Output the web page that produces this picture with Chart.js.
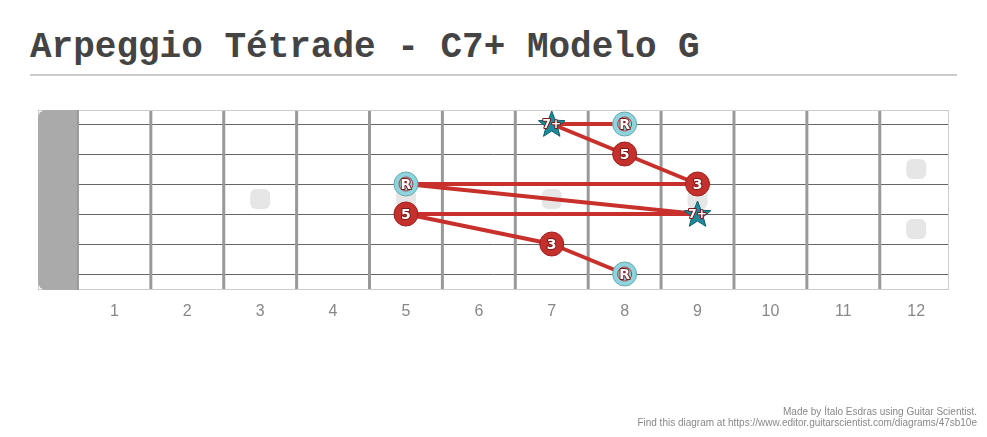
<!DOCTYPE html>
<html><head><meta charset="utf-8">
<script src="https://cdn.jsdelivr.net/npm/chart.js@4"></script>
<style>
body{margin:0;background:#fff;width:987px;height:437px;overflow:hidden;position:relative}
h1{position:absolute;left:30px;top:27px;margin:0;font:bold 36px "Liberation Mono","DejaVu Sans Mono",monospace;color:#444}
#rule{position:absolute;left:30px;top:74px;width:927px;height:2px;background:#ccc}
#foot{position:absolute;right:10px;top:406px;font:10px "Liberation Sans",Arial;color:#888;text-align:right;line-height:11px}
#c{position:absolute;left:0;top:0}
</style></head><body>
<h1>Arpeggio Tétrade - C7+ Modelo G</h1>
<div id="rule"></div>
<canvas id="c" width="987" height="437"></canvas>
<div id="foot">Made by Ítalo Esdras using Guitar Scientist.<br>Find this diagram at https://www.editor.guitarscientist.com/diagrams/47sb10e</div>
<script>
const fretLabels = ['1','2','3','4','5','6','7','8','9','10','11','12'];
// notes in the order the line connects them
const noteFrets = [8, 7, 8, 9, 5, 9, 5, 7, 8];
const noteStrings = [1, 1, 2, 3, 3, 4, 4, 5, 6];
const noteNames = ['R', '7+', '5', '3', 'R', '7+', '5', '3', 'R'];
const inlayFrets = [3, 5, 7, 9, 12, 12];
const inlayStrings = [3.5, 3.5, 3.5, 3.5, 2.5, 4.5];

const board = {
  id: 'board',
  beforeDatasetsDraw(chart) {
    const {ctx, chartArea: a, scales: {x, y}} = chart;
    ctx.save();
    ctx.fillStyle = '#e6e6e6';
    inlayFrets.forEach((f, i) => {
      ctx.beginPath();
      ctx.roundRect(x.getPixelForValue(f) - 10, y.getPixelForValue(inlayStrings[i]) - 10, 20, 20, 6);
      ctx.fill();
    });
    ctx.strokeStyle = '#666'; ctx.lineWidth = 1;
    for (let s = 1; s <= 6; s++) {
      const py = Math.round(y.getPixelForValue(s)) + 0.5;
      ctx.beginPath(); ctx.moveTo(a.left, py); ctx.lineTo(a.right, py); ctx.stroke();
    }
    ctx.strokeStyle = '#999'; ctx.lineWidth = 3;
    for (let f = 1; f <= 11; f++) {
      const px = x.getPixelForValue(f + 0.5);
      ctx.beginPath(); ctx.moveTo(px, a.top); ctx.lineTo(px, a.bottom); ctx.stroke();
    }
    ctx.strokeStyle = '#ccc'; ctx.lineWidth = 1;
    ctx.strokeRect(a.left + 0.5, a.top + 0.5, a.right - a.left - 1, a.bottom - a.top - 1);
    const nut = x.getPixelForValue(0.5);
    ctx.fillStyle = '#aaa';
    ctx.beginPath();
    ctx.roundRect(a.left, a.top, nut - a.left, a.bottom - a.top, [8, 0, 0, 8]);
    ctx.fill();
    ctx.strokeStyle = '#999'; ctx.lineWidth = 2;
    ctx.beginPath(); ctx.moveTo(nut, a.top); ctx.lineTo(nut, a.bottom); ctx.stroke();
    ctx.restore();
  },
  afterDatasetsDraw(chart) {
    const ctx = chart.ctx;
    const meta = chart.getDatasetMeta(0);
    ctx.save();
    meta.data.forEach((pt, i) => {
      const n = noteNames[i], cx = pt.x, cy = pt.y;
      if (n === '7+') {
        ctx.beginPath();
        for (let k = 0; k < 10; k++) {
          const r = k % 2 ? 6 : 14, ang = -Math.PI / 2 + k * Math.PI / 5;
          ctx.lineTo(cx + r * Math.cos(ang), cy + 1 + r * Math.sin(ang));
        }
        ctx.closePath();
        ctx.fillStyle = '#1b8a9a'; ctx.fill();
        ctx.strokeStyle = '#0d5c68'; ctx.lineWidth = 1; ctx.stroke();
      } else if (n === 'R') {
        ctx.beginPath(); ctx.arc(cx, cy, 12, 0, Math.PI * 2);
        ctx.fillStyle = '#8fd3de'; ctx.fill();
        ctx.strokeStyle = '#6aa'; ctx.lineWidth = 1; ctx.stroke();
        ctx.beginPath(); ctx.arc(cx, cy, 7, 0, Math.PI * 2);
        ctx.strokeStyle = '#b03a35'; ctx.lineWidth = 1; ctx.stroke();
      } else {
        ctx.beginPath(); ctx.arc(cx, cy, 12, 0, Math.PI * 2);
        ctx.fillStyle = '#c4302b'; ctx.fill();
        ctx.strokeStyle = '#a02020'; ctx.lineWidth = 1; ctx.stroke();
      }
      ctx.font = 'bold ' + (n === '7+' ? 12 : 14) + 'px "DejaVu Sans", sans-serif';
      ctx.textAlign = 'center'; ctx.textBaseline = 'middle';
      ctx.lineWidth = 2; ctx.strokeStyle = '#7a1a1a'; ctx.lineJoin = 'round';
      ctx.strokeText(n, cx, cy + 1);
      ctx.fillStyle = '#fff'; ctx.fillText(n, cx, cy + 1);
    });
    ctx.restore();
  }
};

new Chart(document.getElementById('c'), {
  type: 'scatter',
  data: {
    datasets: [{
      data: noteFrets.map((f, i) => ({x: f, y: noteStrings[i]})),
      showLine: true,
      borderColor: '#c8302b',
      borderWidth: 4,
      borderJoinStyle: 'round',
      pointRadius: 0
    }]
  },
  options: {
    responsive: false,
    animation: false,
    devicePixelRatio: 1,
    layout: {padding: {left: 38, right: 38, top: 110, bottom: 107}},
    plugins: {legend: {display: false}, tooltip: {enabled: false}},
    scales: {
      x: {
        type: 'linear', min: -0.048, max: 12.45,
        afterBuildTicks: s => { s.ticks = fretLabels.map((l, i) => ({value: i + 1})); },
        afterFit: s => { s.height = 40; },
        ticks: {color: '#888', font: {size: 16, family: '"Liberation Sans", Arial'}, padding: 4,
          callback: (v) => fretLabels[v - 1]},
        grid: {display: false}, border: {display: false}
      },
      y: {
        type: 'linear', min: 0.533, max: 6.533, reverse: true, display: false
      }
    }
  },
  plugins: [board]
});
</script>
</body></html>
